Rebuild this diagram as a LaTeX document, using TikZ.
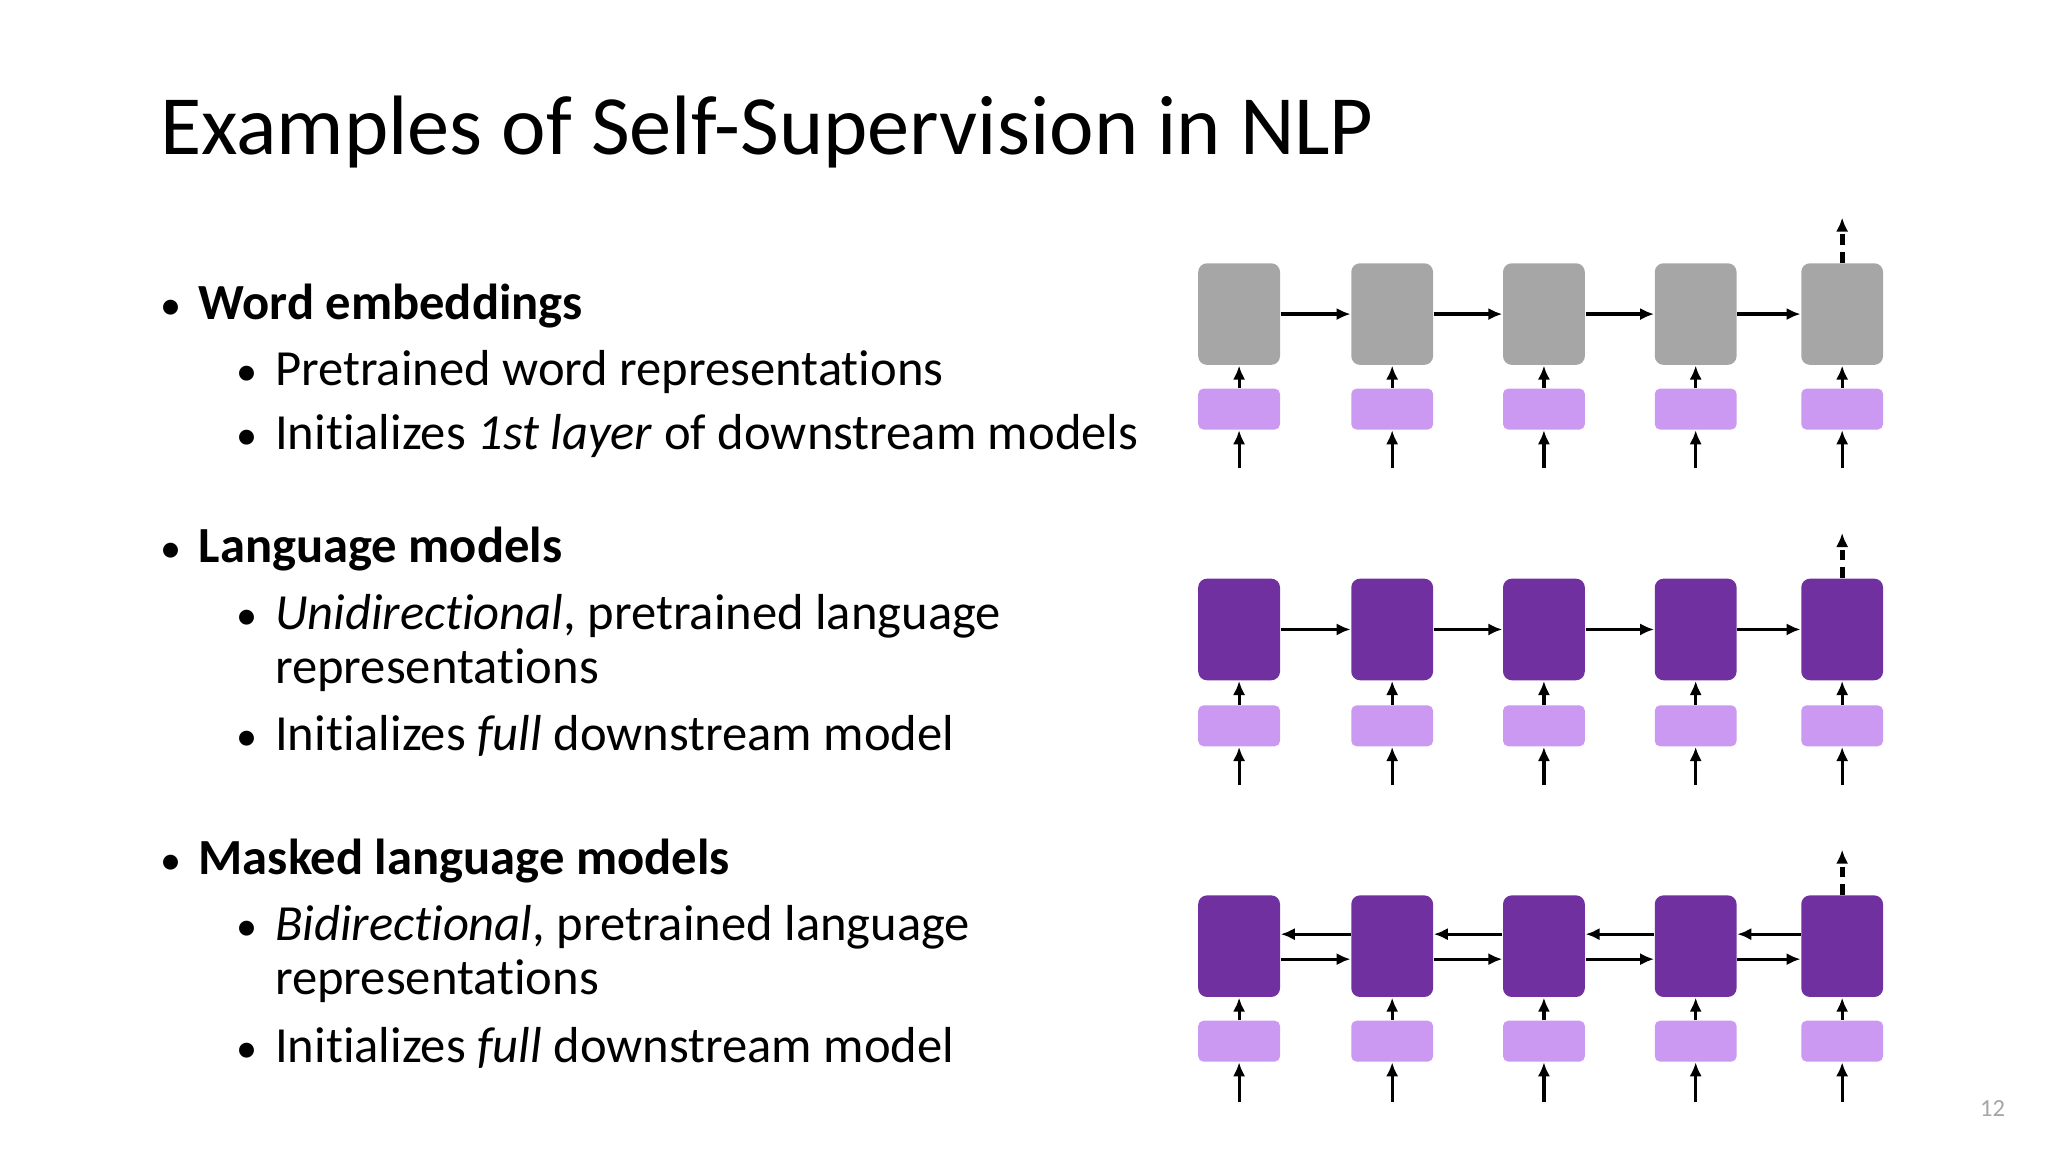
\documentclass[tikz,border=0pt]{standalone}
\usepackage{fontspec}
\setmainfont{Carlito}[Ligatures={NoCommon}]
\usetikzlibrary{arrows.meta}
\definecolor{grayb}{HTML}{A6A6A6}
\definecolor{purp}{HTML}{7030A0}
\definecolor{pink}{HTML}{CC99F2}
\begin{document}
\begin{tikzpicture}[x=0.013196cm,y=-0.013196cm,
  lv1/.style={anchor=base west,inner sep=0,font=\fontsize{14.4}{16}\selectfont\bfseries},
  lv2/.style={anchor=base west,inner sep=0,font=\fontsize{14.4}{16}\selectfont},
  bul/.style={anchor=base west,inner sep=0,font=\fontsize{12}{16}\selectfont},
  cell/.style={rounded corners=2.5pt,minimum width=62*0.013196cm,minimum height=77*0.013196cm,inner sep=0},
  emb/.style={rounded corners=1.5pt,fill=pink,minimum width=62*0.013196cm,minimum height=31*0.013196cm,inner sep=0},
  arr/.style={-{Latex[length=4pt,width=3.5pt]},line width=0.9pt},
  darr/.style={-{Latex[length=4pt,width=3.5pt]},line width=1.4pt,dash pattern=on 3pt off 2pt}]
\useasboundingbox[fill=white] (0,0) rectangle (1552,873);
\node[anchor=base west,inner sep=0,font=\fontsize{24}{30}\selectfont] (title) at (121,117) {Examples of Self-Supervision in NLP};
% text
\foreach \y/\n in {242/b1,426/b2,663/b3}{\node[bul] (\n) at (121,\y) {•};}
\foreach \y/\n in {292/c1,341/c2,477/c3,569/c4,713/c5,805/c6}{\node[bul] (\n) at (179,\y) {•};}
\node[lv1] (t1) at (150,242) {Word embeddings};
\node[lv2] (t2) at (208,292) {Pretrained word representations};
\node[lv2] (t3) at (208,341) {Initializes \textit{1st layer} of downstream models};
\node[lv1] (t4) at (150,426) {Language models};
\node[lv2] (t5) at (208,477) {\textit{Unidirectional}, pretrained language};
\node[lv2] (t6) at (208,518) {representations};
\node[lv2] (t7) at (208,569) {Initializes \textit{full} downstream model};
\node[lv1] (t8) at (150,663) {Masked language models};
\node[lv2] (t9) at (208,713) {\textit{Bidirectional}, pretrained language};
\node[lv2] (t10) at (208,754) {representations};
\node[lv2] (t11) at (208,805) {Initializes \textit{full} downstream model};
\node[anchor=base,inner sep=0,text=grayb,font=\fontsize{7}{8}\selectfont] (pg) at (1510,846) {12};
% diagrams
\foreach \r/\cy/\py/\by/\col in {1/238/310/355/grayb,2/477/550/595/purp,3/717/789/835/purp}{
  \foreach \i/\x in {1/939,2/1055,3/1170,4/1285,5/1396}{
    \node[cell,fill=\col] (h\r\i) at (\x,\cy) {};
    \node[emb] (e\r\i) at (\x,\py) {};
    \coordinate (s\r\i) at (\x,\by);
    \draw[arr] (s\r\i) -- (e\r\i.south);
    \draw[arr] (e\r\i.north) -- (h\r\i.south);
  }
  \coordinate (o\r) at ([yshift=0.45cm]h\r5.north);
  \draw[darr] (h\r5.north) -- (o\r);
}
\foreach \a/\b in {1/2,2/3,3/4,4/5}{
  \draw[arr] (h1\a.east) -- (h1\b.west);
  \draw[arr] (h2\a.east) -- (h2\b.west);
  \draw[arr] ([yshift=-0.13cm]h3\a.east) -- ([yshift=-0.13cm]h3\b.west);
  \draw[arr] ([yshift=0.12cm]h3\b.west) -- ([yshift=0.12cm]h3\a.east);
}
\end{tikzpicture}
\end{document}
